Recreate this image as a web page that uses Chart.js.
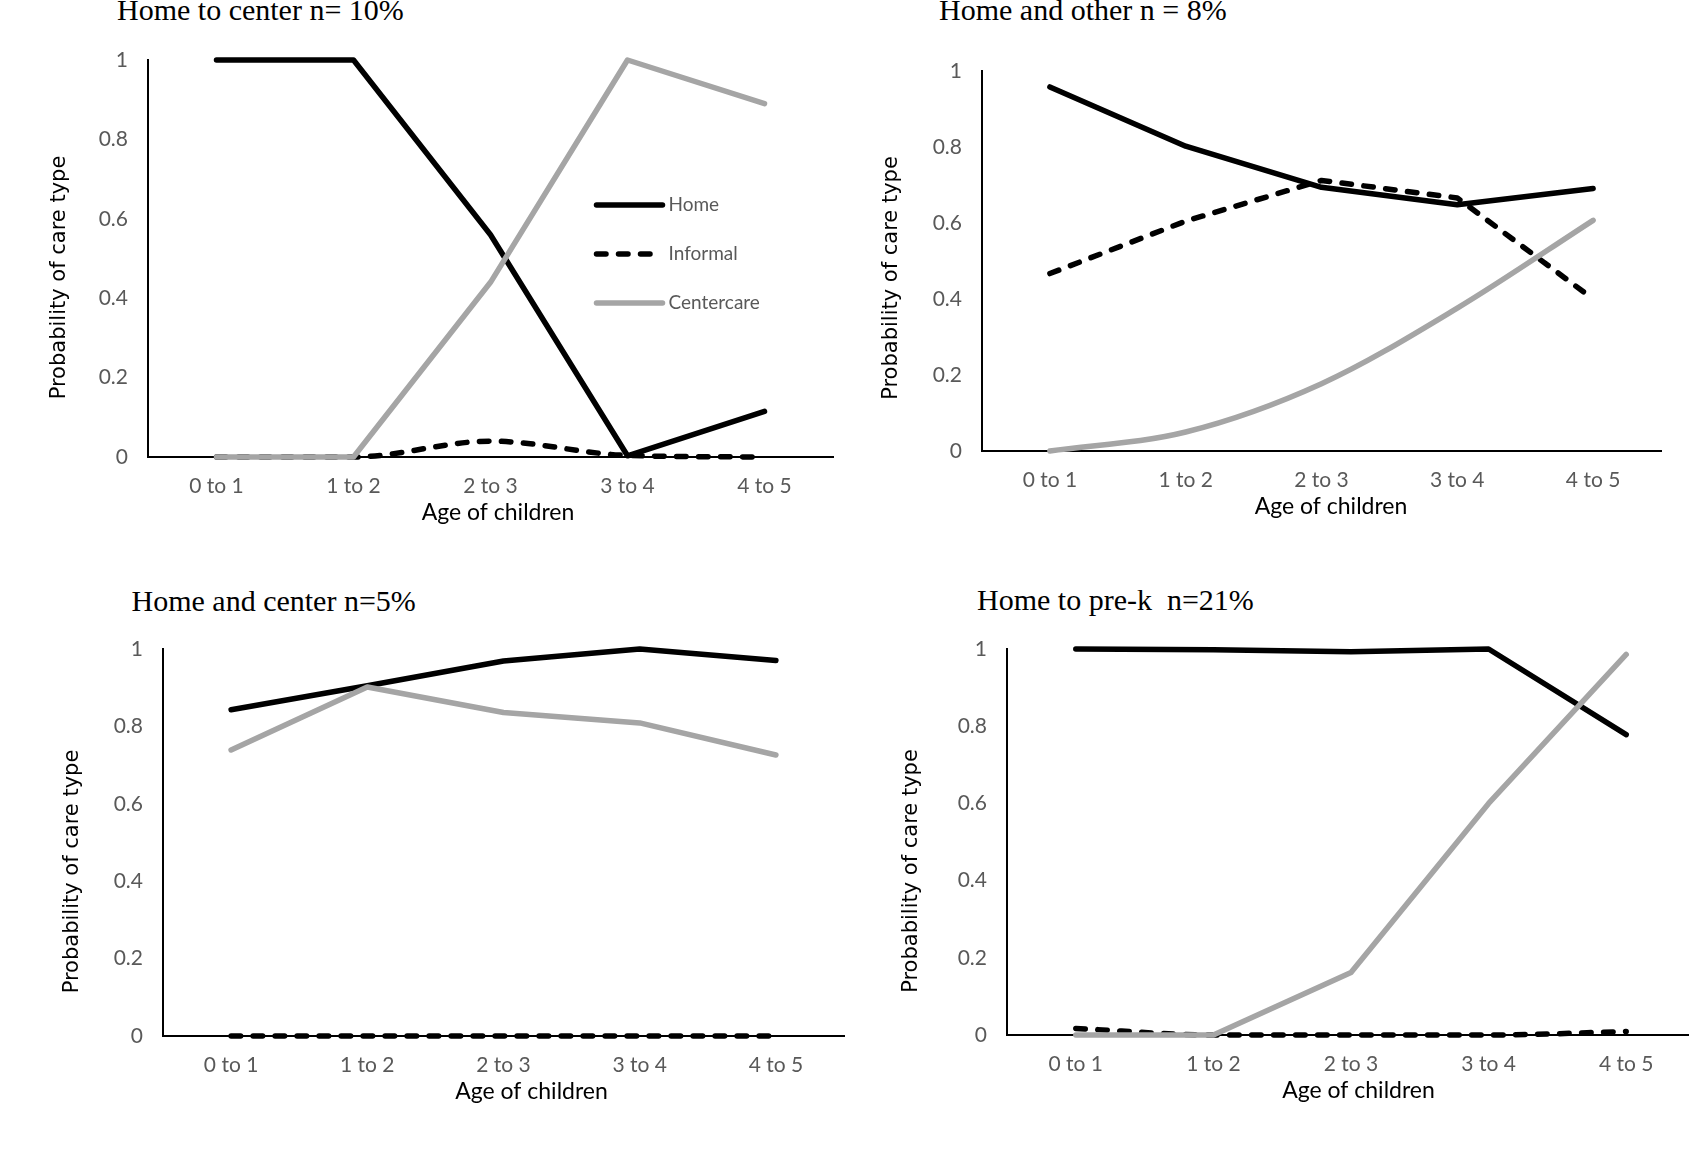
<!DOCTYPE html>
<html>
<head>
<meta charset="utf-8">
<script src="https://cdn.jsdelivr.net/npm/chart.js@4.4.1/dist/chart.umd.min.js"></script>
<style>
    html, body { margin: 0; padding: 0; background: #fff; overflow: hidden; }
    body { position: relative; width: 1689px; height: 1155px; }
    .panel { position: absolute; }
    .panel-title {
        position: absolute;
        font-family: "Liberation Serif", "Times New Roman", serif;
        font-size: 30px;
        line-height: 30px;
        color: #000;
        white-space: pre;
    }
</style>
</head>
<body>
<script>
// Shared axis data
const ageLabels = ['0 to 1', '1 to 2', '2 to 3', '3 to 4', '4 to 5'];
const yTickLabels = ['0', '0.2', '0.4', '0.6', '0.8', '1'];
const seriesNames = ['Home', 'Informal', 'Centercare'];

// Home to center n= 10%
const homeToCenterHome = [1, 1, 0.56, 0.003, 0.115];
const homeToCenterInformal = [0, 0, 0.04, 0.004, 0];
const homeToCenterCenter = [0, 0, 0.44, 1, 0.89];

// Home and other n = 8%
const homeOtherHome = [0.958, 0.802, 0.694, 0.648, 0.691];
const homeOtherInformal = [0.467, 0.605, 0.712, 0.666, 0.40];
const homeOtherCenter = [0, 0.05, 0.177, 0.376, 0.607];

// Home and center n=5%
const homeAndCenterHome = [0.843, 0.905, 0.969, 1.0, 0.97];
const homeAndCenterInformal = [0, 0, 0, 0, 0];
const homeAndCenterCenter = [0.739, 0.902, 0.836, 0.809, 0.726];

// Home to pre-k n=21%
const homePrekHome = [1, 0.998, 0.993, 1, 0.778];
const homePrekInformal = [0.017, 0, 0, 0, 0.009];
const homePrekCenter = [0, 0, 0.162, 0.6, 0.986];

const BLACK = '#000000';
const GREY = '#a5a5a5';
const TICK_GREY = '#595959';

// Legend drawn inside the plot, using the datasets' own styles
const lineLegend = {
    id: 'lineLegend',
    afterDatasetsDraw(chart, args, opts) {
        if (!opts.show) return;
        const ctx = chart.ctx;
        chart.data.datasets.forEach((ds, i) => {
            const y = opts.y + i * opts.rowGap;
            ctx.save();
            ctx.strokeStyle = ds.borderColor;
            ctx.lineWidth = ds.borderWidth;
            ctx.lineCap = 'round';
            ctx.setLineDash(ds.borderDash || []);
            ctx.beginPath();
            ctx.moveTo(opts.x, y);
            ctx.lineTo(opts.x + opts.length, y);
            ctx.stroke();
            ctx.setLineDash([]);
            ctx.fillStyle = TICK_GREY;
            ctx.font = '19px Lato';
            ctx.textBaseline = 'middle';
            ctx.fillText(ds.label, opts.x + opts.length + 6, y);
            ctx.restore();
        });
    }
};

// Axis titles, placed off the chart area centre like the original
const axisTitles = {
    id: 'axisTitles',
    afterDraw(chart, args, o) {
        const { ctx, chartArea: a } = chart;
        ctx.save();
        ctx.fillStyle = BLACK;
        ctx.textAlign = 'center';
        ctx.textBaseline = 'middle';
        ctx.font = '23px Lato';
        ctx.fillText(o.xText, (a.left + a.right) / 2 + o.xShift, a.bottom + o.xGap);
        ctx.translate(a.left - o.yGap, (a.top + a.bottom) / 2 + o.yShift);
        ctx.rotate(-Math.PI / 2);
        ctx.font = '21px "DejaVu Sans"';
        ctx.fillText(o.yText, 0, 0);
        ctx.restore();
    }
};

const panels = [
    { title: 'Home to center n= 10%', titleX: 117, titleTop: -5,
      home: homeToCenterHome, informal: homeToCenterInformal, center: homeToCenterCenter,
      axisX: 147.5, top: 60, bottom: 457, right: 832,
      xShift: 7.5, yShift: 19, yGap: 88.5,
      smooth: ['Informal'], legend: { show: true, x: 596, y: 205, length: 66, rowGap: 49 } },
    { title: 'Home and other n = 8%', titleX: 939, titleTop: -5,
      home: homeOtherHome, informal: homeOtherInformal, center: homeOtherCenter,
      axisX: 982, top: 71, bottom: 451, right: 1661,
      xShift: 9.5, yShift: 17, yGap: 90,
      smooth: ['Centercare'], legend: { show: false } },
    { title: 'Home and center n=5%', titleX: 131.5, titleTop: 585.5,
      home: homeAndCenterHome, informal: homeAndCenterInformal, center: homeAndCenterCenter,
      axisX: 162.5, top: 648.5, bottom: 1035, right: 843,
      xShift: 28, yShift: 29, yGap: 90.5,
      smooth: [], legend: { show: false } },
    { title: 'Home to pre-k  n=21%', titleX: 977, titleTop: 585,
      home: homePrekHome, informal: homePrekInformal, center: homePrekCenter,
      axisX: 1006.5, top: 649, bottom: 1035, right: 1694,
      xShift: 7.5, yShift: 29, yGap: 95.5,
      smooth: ['Informal'], legend: { show: false } }
];

const Y_AXIS_W = 130;
const X_AXIS_H = 80;
const TOP_PAD = 20;

function makeDataset(label, data, color, dash, smooth, order) {
    return {
        label,
        data,
        borderColor: color,
        backgroundColor: color,
        borderWidth: 5.5,
        borderDash: dash,
        borderCapStyle: 'round',
        borderJoinStyle: 'round',
        pointRadius: 0,
        pointHoverRadius: 0,
        tension: smooth ? 0.4 : 0,
        cubicInterpolationMode: smooth ? 'monotone' : 'default',
        clip: false,
        order
    };
}

panels.forEach(p => {
    const left = p.axisX - Y_AXIS_W;
    const top = p.top - TOP_PAD;
    const width = Math.round(p.right + 4 - left);
    const height = Math.round(p.bottom + X_AXIS_H - top);

    const title = document.createElement('div');
    title.className = 'panel-title';
    title.style.left = p.titleX + 'px';
    title.style.top = p.titleTop + 'px';
    title.textContent = p.title;
    document.body.appendChild(title);

    const box = document.createElement('div');
    box.className = 'panel';
    box.style.left = left + 'px';
    box.style.top = top + 'px';
    box.style.width = width + 'px';
    box.style.height = height + 'px';
    const canvas = document.createElement('canvas');
    canvas.width = width;
    canvas.height = height;
    box.appendChild(canvas);
    document.body.appendChild(box);

    const legendOpts = Object.assign({}, p.legend);
    if (legendOpts.show) {
        legendOpts.x -= left;
        legendOpts.y -= top;
    }

    new Chart(canvas, {
        type: 'line',
        data: {
            labels: ageLabels,
            datasets: [
                makeDataset(seriesNames[0], p.home, BLACK, [], p.smooth.includes('Home'), 3),
                makeDataset(seriesNames[1], p.informal, BLACK, [9.5, 12.5], p.smooth.includes('Informal'), 2),
                makeDataset(seriesNames[2], p.center, GREY, [], p.smooth.includes('Centercare'), 1)
            ]
        },
        options: {
            responsive: false,
            animation: false,
            devicePixelRatio: 1,
            layout: { padding: { top: TOP_PAD, right: 4, left: 0, bottom: 0 } },
            plugins: {
                legend: { display: false },
                tooltip: { enabled: false },
                lineLegend: legendOpts,
                axisTitles: {
                    xText: 'Age of children',
                    yText: 'Probability of care type',
                    xShift: p.xShift,
                    xGap: 56,
                    yShift: p.yShift,
                    yGap: p.yGap
                }
            },
            scales: {
                x: {
                    type: 'category',
                    offset: true,
                    grid: { display: false, drawTicks: false },
                    border: { display: true, color: BLACK, width: 2 },
                    ticks: {
                        color: TICK_GREY,
                        font: { family: 'Lato', size: 21 },
                        padding: 17,
                        maxRotation: 0,
                        autoSkip: false
                    },
                    afterFit: s => {
                        s.height = X_AXIS_H;
                        s.paddingLeft = 0;
                        s.paddingRight = 0;
                    }
                },
                y: {
                    min: 0,
                    max: 1,
                    grid: { display: false, drawTicks: false },
                    border: { display: true, color: BLACK, width: 2 },
                    ticks: {
                        stepSize: 0.2,
                        color: TICK_GREY,
                        font: { family: 'Lato', size: 21 },
                        padding: 20,
                        callback: (v, i) => yTickLabels[i]
                    },
                    afterFit: s => {
                        s.width = Y_AXIS_W;
                        s.paddingTop = 0;
                        s.paddingBottom = 0;
                    }
                }
            }
        },
        plugins: [lineLegend, axisTitles]
    });
});
</script>
</body>
</html>
